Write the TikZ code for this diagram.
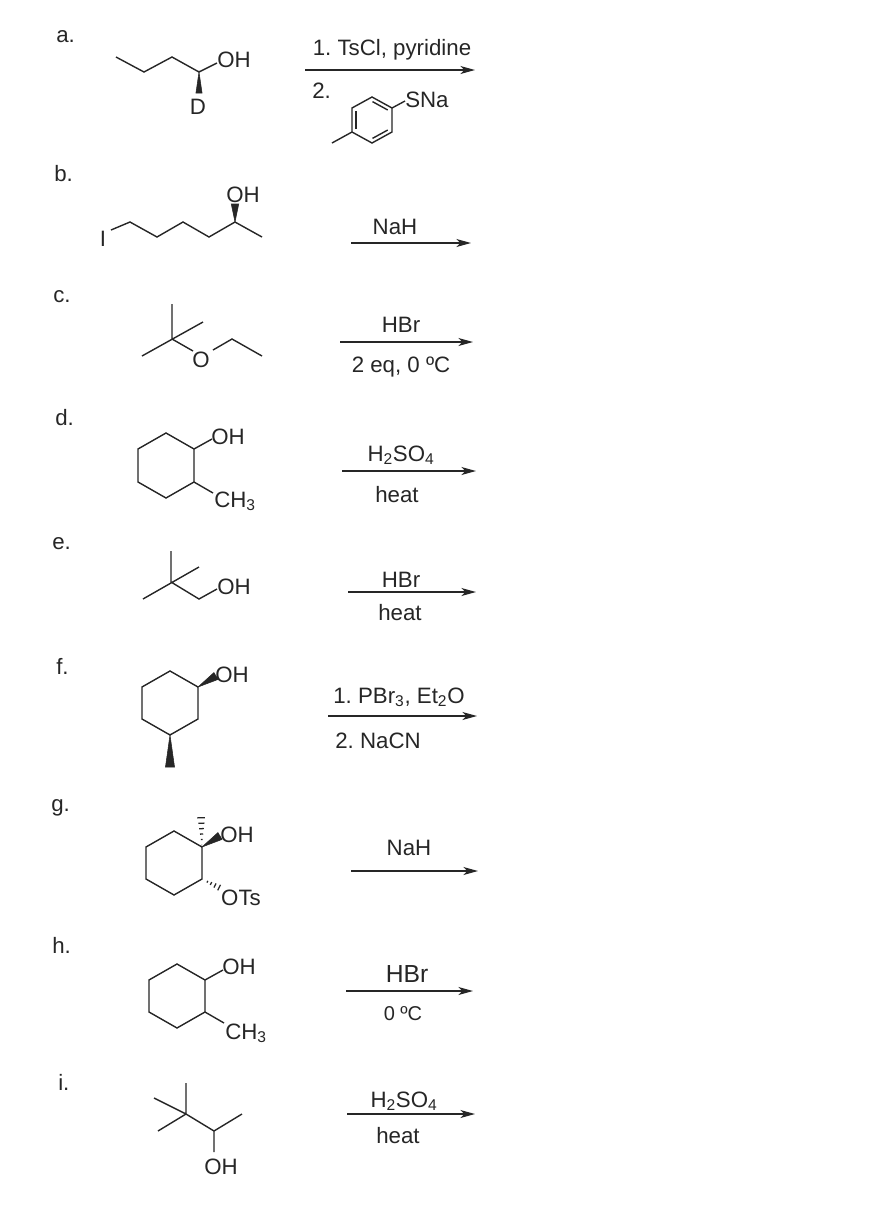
\documentclass[tikz,border=0pt]{standalone}
\usepackage{fontspec}
\setmainfont{Liberation Sans}
\frenchspacing
\usetikzlibrary{arrows.meta,calc}
\definecolor{ink}{HTML}{262626}
\tikzset{
  bond/.style={draw=ink,line width=1.05pt,line cap=butt,line join=miter},
  rxn/.style={draw=ink,line width=1pt,-{Stealth[length=11pt,width=6pt,inset=3pt]}},
  txt/.style={inner sep=0pt,anchor=base,text=ink,yshift=-0.9pt,font=\fontsize{16.7}{20}\selectfont},
  ltxt/.style={txt,anchor=base west},
  tag/.style={ltxt}
}
\newcommand{\wedgebond}[3]{\filldraw[ink,line width=0.4pt,line join=miter] (#1) -- ($(#2)!#3!90:(#1)$) -- ($(#2)!#3!-90:(#1)$) -- cycle;}
\newcommand{\hashbond}[4]{\foreach \t in {#4}{
  \coordinate (hp) at ($(#1)!\t!(#2)$);
  \draw[ink,line width=0.95pt] ($(hp)!{\t*#3}!90:(#2)$) -- ($(hp)!{\t*#3}!-90:(#2)$);}}
\newcommand{\ring}[7]{% prefix + six vertices
  \coordinate (#1a) at #2; \coordinate (#1b) at #3; \coordinate (#1c) at #4;
  \coordinate (#1d) at #5; \coordinate (#1e) at #6; \coordinate (#1f) at #7;
  \draw[bond] (#1a) -- (#1b) -- (#1c) -- (#1d) -- (#1e) -- (#1f) -- cycle;}
\begin{document}
\begin{tikzpicture}[x=0.75pt,y=-0.75pt]
\useasboundingbox (0,0) rectangle (882,1222);
\fill[white] (0,0) rectangle (882,1222);
% tags
\node[tag] (ta) at (56,41) {a.};
\node[tag] (tb) at (54,180) {b.};
\node[tag] (tc) at (53,301) {c.};
\node[tag] (td) at (55,424) {d.};
\node[tag] (te) at (52,548) {e.};
\node[tag] (tf) at (56,673) {f.};
\node[tag] (tg) at (51,810) {g.};
\node[tag] (th) at (52,952) {h.};
\node[tag] (ti) at (58,1089) {i.};

% a
\coordinate (a1) at (116,57); \coordinate (a2) at (144,72); \coordinate (a3) at (172,57);
\coordinate (a4) at (199,72); \coordinate (a5) at (217,63); \coordinate (a6) at (199,93);
\draw[bond] (a1) -- (a2) -- (a3) -- (a4) -- (a5);
\wedgebond{a4}{a6}{2.3pt}
\node[txt] (aOH) at (234,66) {OH};
\node[txt] (aD) at (198,113) {D};
\coordinate (ar1) at (305,70); \coordinate (ar2) at (475,70);
\draw[rxn] (ar1) -- (ar2);
\node[txt] (aR1) at (392,54) {1. TsCl, pyridine};
\node[ltxt] (aR2) at (312,97) {2.};
\ring{r}{(372,97)}{(392,108)}{(392,132)}{(372,143)}{(352,132)}{(352,108)}
\draw[bond] ($(re)!0.12!(rf)+(3.8,0)$) -- ($(rf)!0.12!(re)+(3.8,0)$);
\draw[bond] ($(ra)!0.12!(rb)+(-1.9,3.3)$) -- ($(rb)!0.12!(ra)+(-1.9,3.3)$);
\draw[bond] ($(rc)!0.12!(rd)+(-1.9,-3.3)$) -- ($(rd)!0.12!(rc)+(-1.9,-3.3)$);
\coordinate (rm) at (332,143); \coordinate (rs) at (405,101);
\draw[bond] (re) -- (rm);
\draw[bond] (rb) -- (rs);
\node[ltxt] (aSNa) at (405,106) {SNa};

% b
\coordinate (b0) at (111,230); \coordinate (b1) at (130,222); \coordinate (b2) at (157,237);
\coordinate (b3) at (183,222); \coordinate (b4) at (209,237); \coordinate (b5) at (235,222);
\coordinate (b6) at (262,237); \coordinate (b7) at (235,204);
\draw[bond] (b0) -- (b1) -- (b2) -- (b3) -- (b4) -- (b5) -- (b6);
\wedgebond{b5}{b7}{2.8pt}
\node[txt] (bOH) at (243,201) {OH};
\node[txt] (bI) at (103,245) {I};
\coordinate (br1) at (351,243); \coordinate (br2) at (471,243);
\draw[rxn] (br1) -- (br2);
\node[txt] (bR) at (395,233) {NaH};

% c
\coordinate (c0) at (172,339); \coordinate (c1) at (172,304); \coordinate (c2) at (203,322);
\coordinate (c3) at (142,356); \coordinate (c4) at (193,351); \coordinate (c5) at (213,350);
\coordinate (c6) at (232,339); \coordinate (c7) at (262,356);
\draw[bond] (c1) -- (c0) (c2) -- (c3) (c0) -- (c4) (c5) -- (c6) -- (c7);
\node[txt] (cO) at (201,366) {O};
\coordinate (cr1) at (340,342); \coordinate (cr2) at (473,342);
\draw[rxn] (cr1) -- (cr2);
\node[txt] (cR1) at (401,331) {HBr};
\node[txt] (cR2) at (401,371) {2 eq, 0 ºC};

% d
\ring{d}{(166,433)}{(194,449)}{(194,482)}{(166,498)}{(138,482)}{(138,449)}
\coordinate (d1) at (212,439); \coordinate (d2) at (213,493);
\draw[bond] (db) -- (d1) (dc) -- (d2);
\node[txt] (dOH) at (228,443) {OH};
\node[ltxt] (dCH) at (214,506) {CH\textsubscript{3}};
\coordinate (dr1) at (342,471); \coordinate (dr2) at (476,471);
\draw[rxn] (dr1) -- (dr2);
\node[txt] (dR1) at (401,460) {H\textsubscript{2}SO\textsubscript{4}};
\node[txt] (dR2) at (397,501) {heat};

% e
\coordinate (e0) at (171,582); \coordinate (e1) at (171,551); \coordinate (e2) at (199,567);
\coordinate (e3) at (143,599); \coordinate (e4) at (199,599); \coordinate (e5) at (217,589);
\draw[bond] (e1) -- (e0) (e2) -- (e3) (e0) -- (e4) -- (e5);
\node[txt] (eOH) at (234,593) {OH};
\coordinate (er1) at (348,592); \coordinate (er2) at (476,592);
\draw[rxn] (er1) -- (er2);
\node[txt] (eR1) at (401,586) {HBr};
\node[txt] (eR2) at (400,619) {heat};

% f
\ring{f}{(170,671)}{(198,687)}{(198,719)}{(170,735)}{(142,719)}{(142,687)}
\coordinate (f1) at (216,676); \coordinate (f2) at (170,767);
\wedgebond{fb}{f1}{3pt}
\wedgebond{fd}{f2}{3.4pt}
\node[txt] (fOH) at (232,681) {OH};
\coordinate (fr1) at (328,716); \coordinate (fr2) at (477,716);
\draw[rxn] (fr1) -- (fr2);
\node[txt] (fR1) at (399,702) {1. PBr\textsubscript{3}, Et\textsubscript{2}O};
\node[txt] (fR2) at (378,747) {2. NaCN};

% g
\ring{g}{(174,831)}{(202,847)}{(202,879)}{(174,895)}{(146,879)}{(146,847)}
\coordinate (g1) at (201,813); \coordinate (g2) at (220,836); \coordinate (g3) at (220,888);
\hashbond{gb}{g1}{3.2pt}{0.06,0.22,0.38,0.54,0.70,0.86,1.0}
\hashbond{gc}{g3}{2.4pt}{0.3,0.5,0.72,0.95}
\wedgebond{gb}{g2}{3pt}
\node[txt] (gOH) at (237,841) {OH};
\node[txt] (gOTs) at (241,904) {OTs};
\coordinate (gr1) at (351,871); \coordinate (gr2) at (478,871);
\draw[rxn] (gr1) -- (gr2);
\node[txt] (gR) at (409,854) {NaH};

% h
\ring{h}{(177,964)}{(205,980)}{(205,1012)}{(177,1028)}{(149,1012)}{(149,980)}
\coordinate (h1) at (223,970); \coordinate (h2) at (224,1023);
\draw[bond] (hb) -- (h1) (hc) -- (h2);
\node[txt] (hOH) at (239,973) {OH};
\node[ltxt] (hCH) at (225,1038) {CH\textsubscript{3}};
\coordinate (hr1) at (346,991); \coordinate (hr2) at (473,991);
\draw[rxn] (hr1) -- (hr2);
\node[txt,font=\fontsize{18.5}{20}\selectfont] (hR1) at (407,981) {HBr};
\node[txt,font=\fontsize{15}{18}\selectfont] (hR2) at (403,1019) {0 ºC};

% i
\coordinate (i0) at (186,1114); \coordinate (i1) at (186,1083); \coordinate (i2) at (154,1098);
\coordinate (i3) at (158,1131); \coordinate (i4) at (214,1131); \coordinate (i5) at (242,1114);
\coordinate (i6) at (214,1152);
\draw[bond] (i1) -- (i0) (i3) -- (i0) (i2) -- (i0) -- (i4) -- (i5) (i4) -- (i6);
\node[txt] (iOH) at (221,1173) {OH};
\coordinate (ir1) at (347,1114); \coordinate (ir2) at (475,1114);
\draw[rxn] (ir1) -- (ir2);
\node[txt] (iR1) at (404,1106) {H\textsubscript{2}SO\textsubscript{4}};
\node[txt] (iR2) at (398,1142) {heat};
\end{tikzpicture}
\end{document}
